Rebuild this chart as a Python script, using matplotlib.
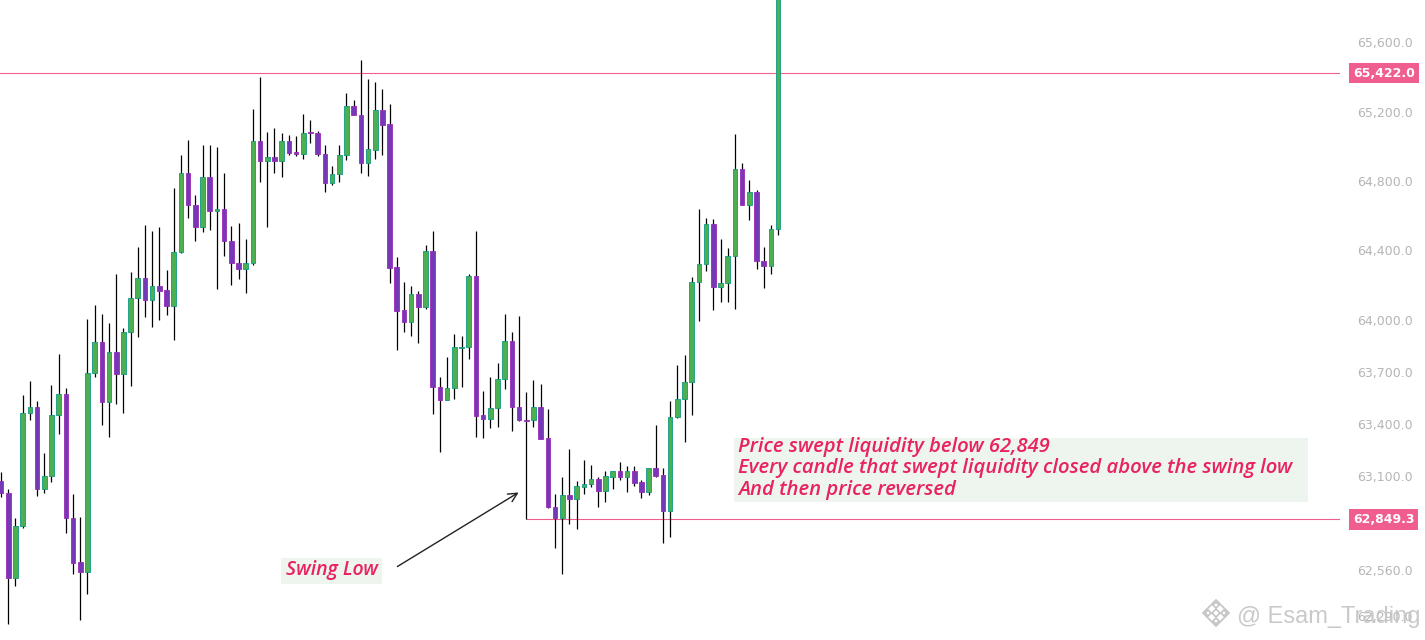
import numpy as np
import matplotlib.pyplot as plt
from matplotlib.patches import Rectangle, Polygon

# candle data
opens = [63072, 63000, 62510, 62809, 63463, 63499, 63023, 63099, 63452, 63574,
         62857, 62602, 62544, 63694, 63871, 63526, 63812, 63688, 63928, 64123,
         64239, 64111, 64193, 64170, 64081, 64390, 64847, 64662, 64534, 64824,
         64626, 64639, 64454, 64325, 64290, 64325, 65032, 64914, 64940, 64914,
         65032, 64965, 64956, 65080, 65074, 64956, 64788, 64839, 64950, 65230,
         65183, 64902, 64977, 65207, 65127, 64302, 64054, 63985, 64148, 64075,
         64396, 63614, 63539, 63605, 63839, 63841, 64252, 63451, 63426, 63489,
         63656, 63877, 63495, 63424, 63420, 63495, 63318, 62918, 62859, 62988,
         62968, 63038, 63051, 63080, 63015, 63095, 63126, 63091, 63126, 63063,
         63009, 63143, 63103, 62899, 63437, 63541, 63639, 64218, 64323, 64549,
         64187, 64212, 64367, 64868, 64662, 64736, 64339, 64308, 64522]
highs = [63124, 63025, 62857, 63566, 63646, 63530, 63234, 63625, 63802, 63604,
         62994, 62861, 64003, 64083, 64031, 63980, 64264, 63951, 64277, 64420,
         64548, 64512, 64536, 64287, 64757, 64948, 65034, 64719, 65005, 65005,
         64994, 64843, 64542, 64555, 64466, 65213, 65398, 65080, 65104, 65074,
         65066, 65057, 65184, 65150, 65087, 65005, 64887, 65005, 65306, 65266,
         65497, 65388, 65369, 65329, 65242, 64363, 64215, 64194, 64165, 64431,
         64511, 63668, 63787, 63918, 63906, 64264, 64511, 63589, 63672, 63751,
         64033, 63929, 64021, 63583, 63652, 63629, 63485, 62995, 63093, 63255,
         63070, 63191, 63163, 63095, 63128, 63128, 63180, 63157, 63157, 63076,
         63143, 63393, 63143, 63531, 63739, 63797, 64244, 64638, 64587, 64581,
         64466, 64413, 65070, 64904, 64807, 64749, 64421, 64547, 66150]
lows = [62980, 62247, 62468, 62800, 63421, 62983, 63000, 63063, 63341, 62769,
        62537, 62272, 62421, 63671, 63393, 63324, 63513, 63461, 63618, 63902,
        64018, 63959, 64001, 64029, 63886, 64385, 64584, 64452, 64504, 64515,
        64180, 64365, 64203, 64237, 64157, 64313, 64792, 64534, 64845, 64822,
        64950, 64946, 64927, 65019, 64946, 64735, 64775, 64792, 64918, 65178,
        64845, 64828, 64927, 64952, 64210, 63825, 63931, 63908, 63864, 64060,
        63455, 63239, 63535, 63545, 63614, 63772, 63326, 63320, 63378, 63384,
        63603, 63360, 63415, 62849, 63380, 63312, 62915, 62686, 62532, 62824,
        62796, 62995, 63038, 62922, 62951, 63026, 63076, 63009, 63043, 62970,
        62992, 63095, 62711, 62750, 63435, 63297, 63451, 63992, 64282, 64056,
        64103, 64103, 64062, 64660, 64575, 64292, 64183, 64264, 64486]
closes = [63000, 62510, 62811, 63463, 63499, 63023, 63099, 63452, 63574, 62857,
          62600, 62544, 63694, 63871, 63526, 63812, 63688, 63928, 64123, 64239,
          64111, 64193, 64167, 64081, 64390, 64847, 64660, 64534, 64824, 64626,
          64641, 64452, 64325, 64290, 64325, 65032, 64914, 64940, 64914, 65032,
          64961, 64954, 65078, 65074, 64954, 64788, 64841, 64950, 65230, 65181,
          64902, 64982, 65207, 65123, 64296, 64052, 63985, 64148, 64075, 64396,
          63614, 63539, 63605, 63843, 63845, 64252, 63447, 63426, 63489, 63658,
          63877, 63495, 63420, 63416, 63495, 63314, 62918, 62859, 62988, 62968,
          63040, 63051, 63080, 63015, 63099, 63126, 63091, 63126, 63061, 63009,
          63143, 63101, 62899, 63437, 63541, 63639, 64215, 64323, 64549, 64187,
          64212, 64367, 64868, 64662, 64736, 64339, 64308, 64522, 66100]

resistance = 65422.0
swing_low = 62849.3
swing_idx = 73
price_ticks = [65600, 65200, 64800, 64400, 64000, 63700, 63400, 63100, 62830, 62560, 62290]

pink = '#F05D8F'
text_red = '#E8235F'
up_fill, up_edge = '#4CAF50', '#0E9A84'
dn_fill, dn_edge = '#7538B6', '#9A2AB5'

o = np.array(opens); h = np.array(highs); l = np.array(lows); c = np.array(closes)
x = np.arange(len(o))
up = c >= o

fig = plt.figure(figsize=(14.25, 6.4), dpi=100)
ax = fig.add_axes([0, 0, 1340 / 1425, 1])

# wicks
ax.vlines(x, l, h, color='black', lw=0.9, zorder=2)
# bodies
bottom = np.minimum(o, c)
height = np.abs(c - o)
ax.bar(x[up], height[up], bottom=bottom[up], width=0.64, color=up_fill,
       edgecolor=up_edge, linewidth=0.6, zorder=3)
ax.bar(x[~up], height[~up], bottom=bottom[~up], width=0.64, color=dn_fill,
       edgecolor=dn_edge, linewidth=0.6, zorder=3)

xmax = 186.1
ax.set_xlim(-0.153, xmax)
ax.set_ylim(62154, 65843)

# levels
ax.axhline(resistance, color=pink, lw=0.8, zorder=1)
ax.hlines(swing_low, swing_idx, xmax, color=pink, lw=0.8, zorder=1)

# price scale
ax.yaxis.tick_right()
ax.set_yticks(price_ticks)
ax.set_yticklabels([f'{t:,.1f}' for t in price_ticks])
ax.tick_params(axis='y', length=0, pad=12, labelsize=9, labelcolor='#B5B5B5')
ax.set_xticks([])
for s in ax.spines.values():
    s.set_visible(False)

ytr = ax.get_yaxis_transform()
for lvl in (resistance, swing_low):
    ax.text(1.0328, lvl, f'{lvl:,.1f}', transform=ytr, ha='center', va='center',
            color='white', fontsize=9, fontweight='bold', clip_on=False, zorder=10,
            bbox=dict(boxstyle='square,pad=0.3', facecolor=pink, edgecolor='none'))

# annotations
ax.add_patch(Rectangle((734 / 1340, 1 - 502 / 640), 574 / 1340, 64 / 640,
                       transform=ax.transAxes, facecolor='#EDF5EE', edgecolor='none', zorder=4))
ax.text(738 / 1340, 1 - 437 / 640,
        'Price swept liquidity below 62,849\n'
        'Every candle that swept liquidity closed above the swing low\n'
        'And then price reversed',
        transform=ax.transAxes, ha='left', va='top', color=text_red,
        fontsize=14.6, style='italic', family='Open Sans', fontweight='semibold',
        linespacing=1.1, zorder=5)

ax.add_patch(Rectangle((281 / 1340, 1 - 584 / 640), 101 / 1340, 26 / 640,
                       transform=ax.transAxes, facecolor='#EDF5EE', edgecolor='none', zorder=4))
ax.text(332 / 1340, 1 - 570 / 640, 'Swing Low', transform=ax.transAxes,
        ha='center', va='center', color=text_red, fontsize=14, style='italic',
        family='Open Sans', fontweight='semibold', zorder=5)
ax.annotate('', xy=(521 / 1340, 1 - 491 / 640), xytext=(395 / 1340, 1 - 568 / 640),
            xycoords='axes fraction', textcoords='axes fraction',
            arrowprops=dict(arrowstyle='->', color='#222222', lw=1.0, mutation_scale=16),
            zorder=5)

# watermark
wm = '#C4C4C4'
fig.text(1237 / 1425, 1 - 617 / 640, '@ Esam_Trading', ha='left', va='center',
         color=wm, fontsize=17, family='Liberation Sans', alpha=0.9, zorder=20)
cx, cy, r = 1216 / 1425, 1 - 613 / 640, 13
def diamond(px, py, rr):
    return Polygon([(px, py + rr / 640), (px + rr / 1425, py), (px, py - rr / 640), (px - rr / 1425, py)],
                   closed=True, transform=fig.transFigure, facecolor='none', edgecolor=wm, lw=1.2)
fig.patches.append(diamond(cx, cy, 4))
for dx, dy in [(8, 0), (-8, 0), (0, 8), (0, -8)]:
    fig.patches.append(diamond(cx + dx / 1425, cy + dy / 640, 3))
fig.patches.append(diamond(cx, cy, r))

fig.savefig('out.png', dpi=100, facecolor='white')
